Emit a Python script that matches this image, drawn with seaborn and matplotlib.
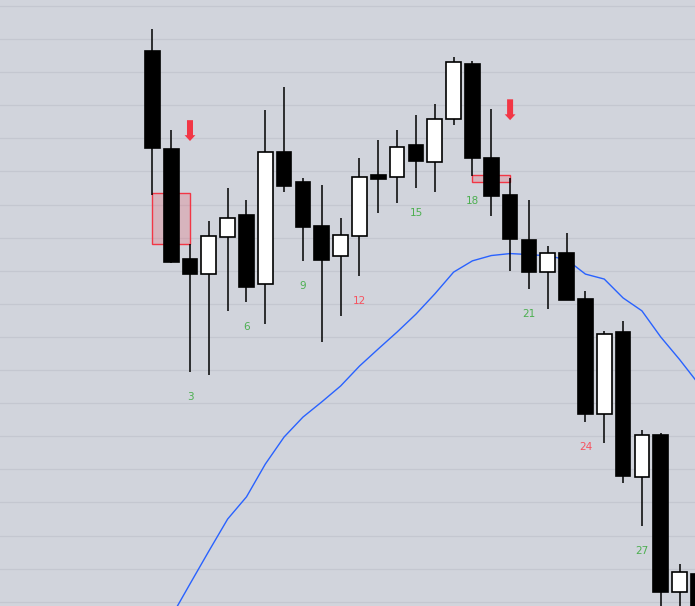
import matplotlib
matplotlib.use("Agg")
import matplotlib.pyplot as plt
import numpy as np
import pandas as pd
import seaborn as sns

# --- Data ---
bar_idx = list(range(1, 31))
opens = [17.64, 14.68, 11.36, 10.91, 12.03, 12.69, 10.59, 14.58, 13.67, 12.35,
         11.44, 12.04, 13.89, 13.82, 14.80, 14.28, 15.57, 17.25, 14.41, 13.29,
         11.93, 10.97, 11.54, 10.15, 6.68, 9.15, 4.78, 6.04, 1.31, 1.84]
highs = [18.30, 15.25, 11.81, 12.50, 13.50, 13.14, 15.86, 16.55, 13.79, 13.59,
         12.60, 14.41, 14.95, 15.25, 15.71, 16.04, 17.46, 17.34, 15.89, 13.80,
         13.14, 11.75, 12.14, 10.39, 9.18, 9.48, 6.19, 6.10, 2.14, 1.96]
lows = [13.29, 11.24, 7.94, 7.85, 9.79, 10.06, 9.39, 13.38, 11.30, 8.85,
        9.63, 10.84, 12.75, 13.06, 13.50, 13.39, 15.41, 13.86, 12.66, 10.99,
        10.45, 9.85, 10.12, 6.43, 5.80, 4.59, 3.29, 0.60, 0.45, 0.20]
closes = [14.72, 11.27, 10.91, 12.04, 12.59, 10.52, 14.58, 13.57, 12.33, 11.34,
          12.07, 13.82, 13.78, 14.73, 14.33, 15.59, 17.30, 14.42, 13.27, 11.97,
          10.97, 11.53, 10.13, 6.68, 9.08, 4.81, 6.03, 1.31, 1.89, 0.50]

ma_idx = list(range(2, 31))
ma_values = [0.54, 1.54, 2.53, 3.50, 4.17, 5.16, 5.98, 6.58, 7.04, 7.52,
             8.12, 8.64, 9.15, 9.69, 10.30, 10.96, 11.30, 11.46, 11.52, 11.49,
             11.45, 11.34, 10.90, 10.75, 10.18, 9.79, 9.00, 8.32, 7.59]

# zones: (start bar, end bar, bottom, top)
zone_start = [1, 18]
zone_end = [3, 20]
zone_bottom = [11.81, 13.69]
zone_top = [13.35, 13.89]

# down arrows: bar and tip level
arrow_idx = [3, 20]
arrow_tip = [14.92, 15.55]

# bar counter labels
count_idx = [3, 6, 9, 12, 15, 18, 21, 24, 27]
count_colors = ["green", "green", "green", "red", "green", "green", "green", "red", "green"]

BG = "#d1d4dc"
GRID = "#c4c7d0"
RED = "#f23645"
GREEN = "#4caf50"
LABEL_RED = "#f7525f"
BLUE = "#2962ff"

df = pd.DataFrame({"idx": bar_idx, "open": opens, "high": highs, "low": lows, "close": closes})
ma_df = pd.DataFrame({"idx": ma_idx, "ma": ma_values})

# --- Plot ---
sns.set_theme(style="white")
fig = plt.figure(figsize=(6.95, 6.06), dpi=100, facecolor=BG)
ax = fig.add_axes((0, 0, 1, 1))
ax.set_facecolor(BG)

ax.set_xlim(-7.09, 29.82)
ax.set_ylim(0.873, 19.18)
for lvl in range(1, 20):
    ax.axhline(lvl, color=GRID, lw=0.9, zorder=0)

# zones behind candles
for s, e, b, t in zip(zone_start, zone_end, zone_bottom, zone_top):
    ax.add_patch(plt.Rectangle((s, b), e - s, t - b, facecolor=RED, alpha=0.2,
                               edgecolor="none", zorder=1))
    ax.add_patch(plt.Rectangle((s, b), e - s, t - b, facecolor="none",
                               edgecolor=RED, lw=1.0, zorder=1.1))

# moving average
sns.lineplot(data=ma_df, x="idx", y="ma", color=BLUE, lw=1.0, ax=ax, zorder=2)

# candles
up = df["close"] > df["open"]
ax.vlines(df["idx"], df["low"], df["high"], color="black", lw=1.1, zorder=3)
body_bottom = np.minimum(df["open"], df["close"])
body_height = np.abs(df["close"] - df["open"])
ax.bar(df["idx"], body_height, bottom=body_bottom, width=0.78,
       color=np.where(up, "white", "black"), edgecolor="black", lw=1.2, zorder=4)

# signal arrows
for i, tip in zip(arrow_idx, arrow_tip):
    ax.annotate("", xy=(i, tip), xytext=(i, tip + 0.63),
                arrowprops=dict(arrowstyle="simple,head_length=0.35,head_width=0.65,tail_width=0.36",
                                color=RED, shrinkA=0, shrinkB=0, lw=0),
                zorder=5)

# counters under the lows
for i, c in zip(count_idx, count_colors):
    ax.annotate(str(i), xy=(i, lows[i - 1]), xytext=(0, -25), textcoords="offset pixels",
                ha="center", va="center", fontsize=7.5,
                color=GREEN if c == "green" else LABEL_RED, zorder=5)

ax.set_xlabel("")
ax.set_ylabel("")
ax.set_xticks([])
ax.set_yticks([])
for sp in ax.spines.values():
    sp.set_visible(False)
if ax.get_legend():
    ax.get_legend().remove()

fig.savefig("out.png", dpi=100, facecolor=BG)
